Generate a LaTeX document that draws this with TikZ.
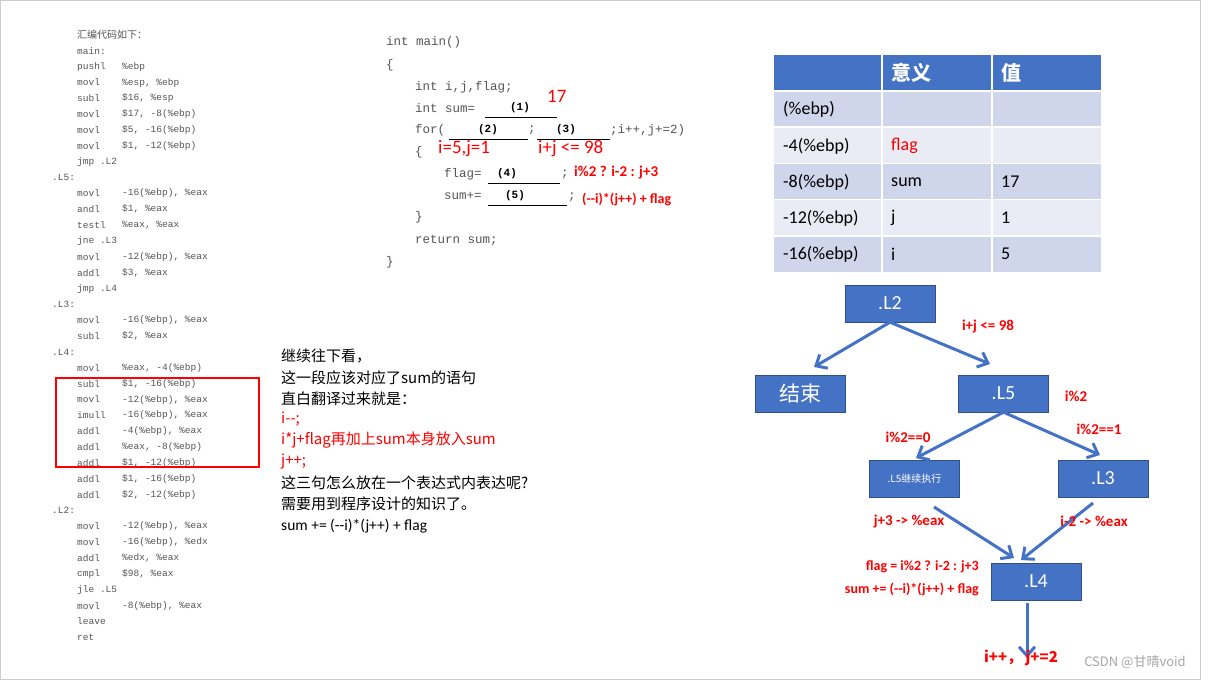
\documentclass[tikz,border=0pt]{standalone}
\usepackage{fontspec}
\setmainfont{Carlito}
\setmonofont{Liberation Mono}
\newfontfamily\cjk{Noto Sans CJK SC}
\usetikzlibrary{arrows.meta}
\definecolor{ob}{HTML}{4472C4}
\definecolor{rowA}{HTML}{CFD5EA}
\definecolor{rowB}{HTML}{E9EBF5}
\definecolor{asm}{HTML}{555555}
\tikzset{
 asmt/.style={anchor=west,inner sep=0,font=\ttfamily\fontsize{9.5}{10}\selectfont,text=asm},
 code/.style={anchor=west,inner sep=0,font=\ttfamily\fontsize{12.5}{13}\selectfont,text=asm},
 blank/.style={font=\ttfamily\bfseries\fontsize{11}{12}\selectfont,inner sep=0},
 redt/.style={anchor=west,inner sep=0,text=red,font=\fontsize{19}{20}\selectfont},
 redb/.style={inner sep=0,text=red,font=\bfseries\fontsize{15}{16}\selectfont},
 note/.style={anchor=west,inner sep=0,font=\cjk\fontsize{15}{16}\selectfont},
 cell/.style={anchor=west,inner sep=0,font=\fontsize{18}{19}\selectfont},
 fbox/.style={draw=ob!70!black,fill=ob,text=white,minimum width=90pt,minimum height=37pt,inner sep=0,font=\fontsize{20}{21}\selectfont},
 farr/.style={draw=ob,line width=3pt,-{Straight Barb[length=9pt,width=16pt,line width=3pt]}},
}
\begin{document}
\begin{tikzpicture}[x=1pt,y=-1pt]
\useasboundingbox (0,0) rectangle (1209,680);
\draw[gray!40] (0.5,0.5) rectangle (1200,679.5);
% assembly
\node[asmt,font=\cjk\fontsize{10}{11}\selectfont] (a0) at (77,35) {汇编代码如下：};
\foreach \n/\op/\arg in {1/main:/,2/pushl/\%ebp,3/movl/{\%esp, \%ebp},4/subl/{\$16, \%esp},5/movl/{\$17, -8(\%ebp)},6/movl/{\$5, -16(\%ebp)},7/movl/{\$1, -12(\%ebp)},8/jmp .L2/,
10/movl/{-16(\%ebp), \%eax},11/andl/{\$1, \%eax},12/testl/{\%eax, \%eax},13/jne .L3/,14/movl/{-12(\%ebp), \%eax},15/addl/{\$3, \%eax},16/jmp .L4/,
18/movl/{-16(\%ebp), \%eax},19/subl/{\$2, \%eax},
21/movl/{\%eax, -4(\%ebp)},22/subl/{\$1, -16(\%ebp)},23/movl/{-12(\%ebp), \%eax},24/imull/{-16(\%ebp), \%eax},25/addl/{-4(\%ebp), \%eax},26/addl/{\%eax, -8(\%ebp)},27/addl/{\$1, -12(\%ebp)},28/addl/{\$1, -16(\%ebp)},29/addl/{\$2, -12(\%ebp)},
31/movl/{-12(\%ebp), \%eax},32/movl/{-16(\%ebp), \%edx},33/addl/{\%edx, \%eax},34/cmpl/{\$98, \%eax},35/jle .L5/,36/movl/{-8(\%ebp), \%eax},37/leave/,38/ret/}
{
 \node[asmt] (op\n) at (77,35+15.85*\n) {\op};
 \node[asmt] (ar\n) at (122,35+15.85*\n) {\arg};
}
\foreach \n/\l in {9/.L5:,17/.L3:,20/.L4:,30/.L2:}
 \node[asmt] (lb\n) at (52,35+15.85*\n) {\l};
\draw[red,line width=2.5pt] (56,378) rectangle (259,467);
% C code
\node[code] (c1) at (386,42) {int main()};
\node[code] (c2) at (386,65) {\{};
\node[code] (c3) at (415,87) {int i,j,flag;};
\node[code] (c4) at (415,108) {int sum=};
\draw[line width=1pt] (485,117) -- (557,117);
\node[blank] (b1) at (520,108) {(1)};
\node[redt] (r1) at (547,96) {17};
\node[code] (c5) at (415,130) {for(};
\draw[line width=1pt] (449,139) -- (528,139);
\node[blank] (b2) at (488,130) {(2)};
\node[code] (c5b) at (528,130) {;};
\draw[line width=1pt] (537,139) -- (610,139);
\node[blank] (b3) at (566,130) {(3)};
\node[code] (c5c) at (610,130) {;i++,j+=2)};
\node[code] (c6) at (415,152) {\{};
\node[redt] (r2) at (438,149) {i=5,j=1};
\node[redt] (r3) at (538,149) {i+j <= 98};
\node[code] (c7) at (444,174) {flag=};
\draw[line width=1pt] (488,183) -- (560,183);
\node[blank] (b4) at (507,174) {(4)};
\node[code] (c7b) at (561,174) {;};
\node[redb,anchor=west] (r4) at (574,173) {i\%2 ? i-2 : j+3};
\node[code] (c8) at (444,196) {sum+=};
\draw[line width=1pt] (488,205) -- (567,205);
\node[blank] (b5) at (515,196) {(5)};
\node[code] (c8b) at (568,197) {;};
\node[redb,anchor=west,font=\bfseries\fontsize{14}{15}\selectfont] (r5) at (582,199) {(-{}-i)*(j++) + flag};
\node[code] (c9) at (415,217) {\}};
\node[code] (c10) at (415,240) {return sum;};
\node[code] (c11) at (386,262) {\}};
% notes
\node[note] (n1) at (281,356) {继续往下看，};
\node[note] (n2) at (281,378) {这一段应该对应了sum的语句};
\node[note] (n3) at (281,399) {直白翻译过来就是：};
\node[note,text=red] (n4) at (281,419) {i-{}-;};
\node[note,text=red] (n5) at (281,440) {i*j+flag再加上sum本身放入sum};
\node[note,text=red] (n6) at (281,461) {j++;};
\node[note] (n7) at (281,483) {这三句怎么放在一个表达式内表达呢?};
\node[note] (n8) at (281,504) {需要用到程序设计的知识了。};
\node[note,font=\fontsize{15.5}{16}\selectfont] (n9) at (281,526) {sum += (-{}-i)*(j++) + flag};
% table
\fill[ob] (774,55) rectangle (1101,91);
\foreach \i/\c in {0/rowA,1/rowB,2/rowA,3/rowB,4/rowA}
 \fill[\c] (774,91+36.2*\i) rectangle (1101,127.2+36.2*\i);
\draw[white,line width=1.5pt] (882,55) -- (882,272) (992,55) -- (992,272);
\foreach \i in {0,...,4} \draw[white,line width=1.5pt] (774,91+36.2*\i) -- (1101,91+36.2*\i);
\node[cell,text=white,font=\cjk\bfseries\fontsize{20}{21}\selectfont] (h2) at (891,73) {意义};
\node[cell,text=white,font=\cjk\bfseries\fontsize{20}{21}\selectfont] (h3) at (1001,73) {值};
\node[cell] (t1) at (783,109) {(\%ebp)};
\node[cell] (t2) at (783,146) {-4(\%ebp)};
\node[cell,text=red] (t2b) at (891,146) {flag};
\node[cell] (t3) at (783,182) {-8(\%ebp)};
\node[cell] (t3b) at (891,182) {sum};
\node[cell] (t3c) at (1001,182) {17};
\node[cell] (t4) at (783,218) {-12(\%ebp)};
\node[cell] (t4b) at (891,218) {j};
\node[cell] (t4c) at (1001,218) {1};
\node[cell] (t5) at (783,254) {-16(\%ebp)};
\node[cell] (t5b) at (891,254) {i};
\node[cell] (t5c) at (1001,254) {5};
% flowchart
\node[fbox] (L2) at (890,303.5) {.L2};
\node[fbox,font=\cjk\fontsize{21}{22}\selectfont] (end) at (800.5,393.5) {结束};
\node[fbox] (L5) at (1003.5,393.5) {.L5};
\node[fbox,font=\cjk\fontsize{10}{11}\selectfont] (L5c) at (914.5,479) {.L5继续执行};
\node[fbox] (L3) at (1103,478.5) {.L3};
\node[fbox] (L4) at (1036,581.5) {.L4};
\coordinate (fin) at (1027,658);
\draw[farr] (L2.south) -- (814,367);
\draw[farr] (L2.south) -- (990,364);
\draw[farr] (L5.south) -- (916,458);
\draw[farr] (L5.south) -- (1100,455);
\draw[farr] (934,507) -- (1014,558);
\draw[farr] (1093,503) -- (1021,560);
\draw[farr] (1027,603) -- (fin);
\node[redb] (f1) at (988,326) {i+j <= 98};
\node[redb] (f2) at (1076,396) {i\%2};
\node[redb] (f3) at (908,437) {i\%2==0};
\node[redb] (f4) at (1099,429) {i\%2==1};
\node[redb] (f5) at (909,521) {j+3 -> \%eax};
\node[redb] (f6) at (1094,521) {i-2 -> \%eax};
\node[redb,anchor=east,font=\bfseries\fontsize{14}{15}\selectfont] (f7) at (979,567) {flag = i\%2 ? i-2 : j+3};
\node[redb,anchor=east,font=\bfseries\fontsize{14}{15}\selectfont] (f8) at (979,589) {sum += (-{}-i)*(j++) + flag};
\node[redb,font=\cjk\bfseries\fontsize{15}{16}\selectfont] (f9) at (1021,658) {i++， j+=2};
\node[inner sep=0,text=gray!70,font=\cjk\fontsize{13}{14}\selectfont] (wm) at (1135,662) {CSDN @甘晴void};
\end{tikzpicture}
\end{document}
